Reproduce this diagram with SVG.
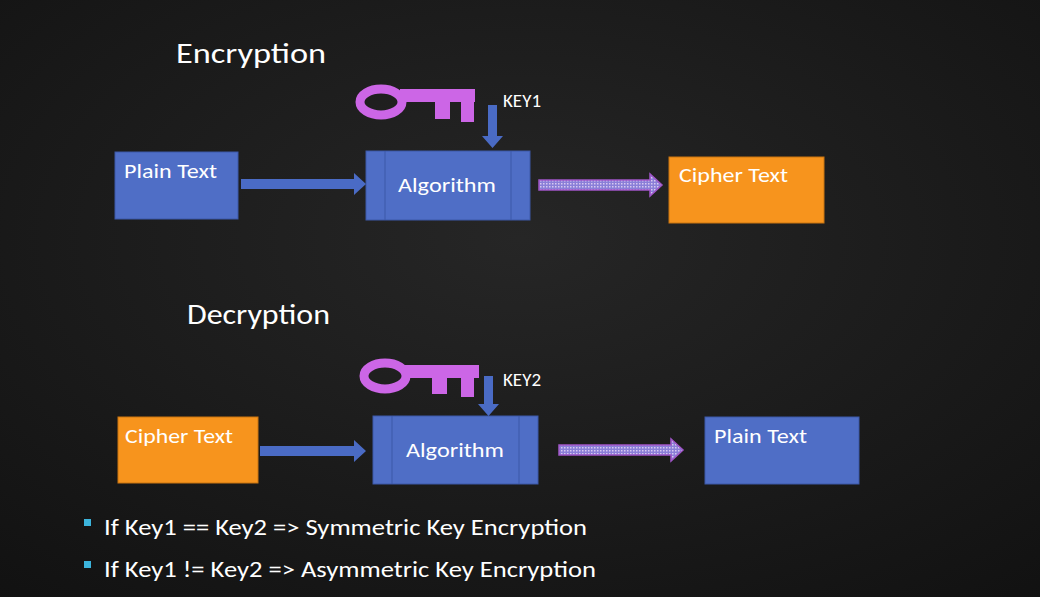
<svg xmlns="http://www.w3.org/2000/svg" width="1040" height="597" viewBox="0 0 1040 597">
<defs>
<radialGradient id="bg" cx="0.5" cy="0.4" r="0.8"><stop offset="0" stop-color="#262626"/><stop offset="1" stop-color="#111"/></radialGradient>
<pattern id="dots" width="3" height="3" patternUnits="userSpaceOnUse"><rect width="3" height="3" fill="#8a7fd8"/><rect width="1.5" height="1.5" fill="#d8c8f0"/></pattern>
<style>
.t{font-family:Calibri,Carlito,"Liberation Sans",sans-serif;fill:#fff}
.box{fill:#4f6ec6;stroke:#3d58a8;stroke-width:1}
.or{fill:#f7941d;stroke:#c97410;stroke-width:1}
.blue{fill:#4a6bc5}
.key{fill:#cc66e6}
.hat{fill:url(#dots);stroke:#a055c8;stroke-width:1.5}
</style>
</defs>
<rect width="1040" height="597" fill="url(#bg)"/>
<text class="t" x="176" y="63" font-size="28" textLength="150" lengthAdjust="spacingAndGlyphs">Encryption</text>
<text class="t" x="187" y="324" font-size="28" textLength="143" lengthAdjust="spacingAndGlyphs">Decryption</text>
<g id="key1">
<ellipse cx="381" cy="102" rx="21" ry="13" fill="none" stroke="#cc66e6" stroke-width="9"/>
<rect class="key" x="400" y="89" width="75" height="13"/>
<rect class="key" x="435" y="102" width="15" height="17"/>
<rect class="key" x="461" y="102" width="13" height="20"/>
</g>
<g id="key2">
<ellipse cx="385" cy="376" rx="21" ry="13" fill="none" stroke="#cc66e6" stroke-width="9"/>
<rect class="key" x="404" y="365" width="75" height="13"/>
<rect class="key" x="432" y="378" width="15" height="16"/>
<rect class="key" x="461" y="378" width="13" height="19"/>
</g>
<text class="t" x="503" y="107" font-size="19">KEY1</text>
<text class="t" x="503" y="386" font-size="19">KEY2</text>
<g id="plain1"><rect class="box" x="115" y="152" width="123" height="67"/><text class="t" x="124" y="178" font-size="20" textLength="93" lengthAdjust="spacingAndGlyphs">Plain Text</text></g>
<g id="alg1"><rect class="box" x="366" y="151" width="164" height="69"/><line x1="385" y1="151" x2="385" y2="220" stroke="#3d58a8"/><line x1="511" y1="151" x2="511" y2="220" stroke="#3d58a8"/><text class="t" x="447" y="192" font-size="20" text-anchor="middle" textLength="98" lengthAdjust="spacingAndGlyphs">Algorithm</text></g>
<g id="cipher1"><rect class="or" x="669" y="157" width="155" height="66"/><text class="t" x="679" y="182" font-size="20" textLength="109" lengthAdjust="spacingAndGlyphs">Cipher Text</text></g>
<g id="cipher2"><rect class="or" x="118" y="417" width="140" height="66"/><text class="t" x="125" y="443" font-size="20" textLength="108" lengthAdjust="spacingAndGlyphs">Cipher Text</text></g>
<g id="alg2"><rect class="box" x="373" y="416" width="165" height="68"/><line x1="392" y1="416" x2="392" y2="484" stroke="#3d58a8"/><line x1="519" y1="416" x2="519" y2="484" stroke="#3d58a8"/><text class="t" x="455" y="457" font-size="20" text-anchor="middle" textLength="98" lengthAdjust="spacingAndGlyphs">Algorithm</text></g>
<g id="plain2"><rect class="box" x="705" y="417" width="154" height="67"/><text class="t" x="714" y="443" font-size="20" textLength="93" lengthAdjust="spacingAndGlyphs">Plain Text</text></g>
<g id="connectors">
<path class="blue" d="M241 179H354V173L366 184L354 195V189H241Z"/>
<path class="blue" d="M488 105H497V136H503L492.5 148L482 136H488Z"/>
<path class="hat" d="M539 180H650V174L662 185L650 196V190H539Z"/>
<path class="blue" d="M260 446H354V440L366 451L354 462V456H260Z"/>
<path class="blue" d="M484 376H493V404H499L488.5 416L478 404H484Z"/>
<path class="hat" d="M559 445H671V439L683 450L671 461V455H559Z"/>
</g>
<rect x="84" y="519" width="7" height="7" fill="#3cb4dc"/>
<rect x="84" y="561" width="7" height="7" fill="#3cb4dc"/>
<text class="t" x="104" y="535" font-size="23" textLength="483" lengthAdjust="spacingAndGlyphs">If Key1 == Key2 =&gt; Symmetric Key Encryption</text>
<text class="t" x="104" y="577" font-size="23" textLength="492" lengthAdjust="spacingAndGlyphs">If Key1 != Key2 =&gt; Asymmetric Key Encryption</text>
</svg>
